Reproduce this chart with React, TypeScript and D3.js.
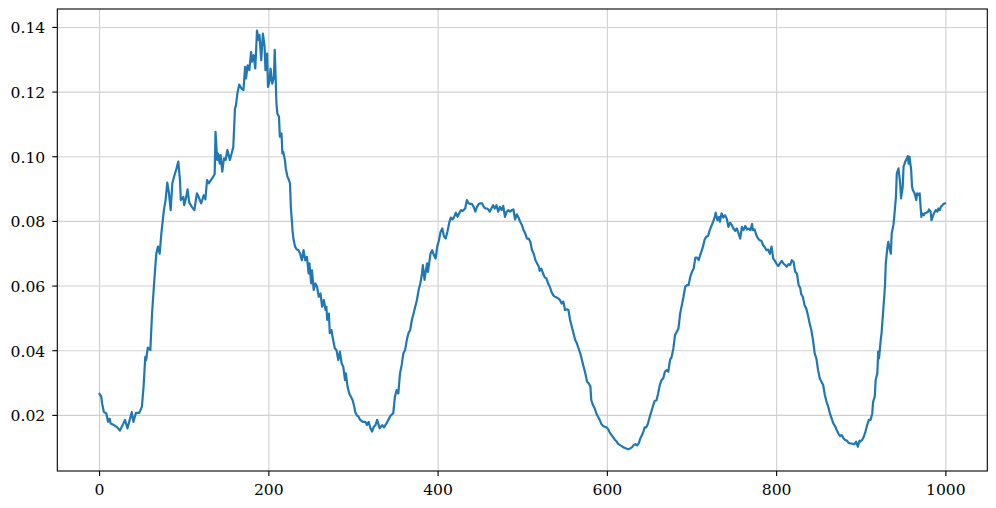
import React from "react";
import * as d3 from "d3";

const sampleX: number[] = [
  0, 2, 3, 5, 8, 10, 12, 13, 17, 21, 24, 26, 30, 33, 35, 38, 40, 43, 47, 50,
  52, 54, 55, 57, 60, 62, 65, 67, 69, 71, 73, 76, 78, 80, 82, 84, 86, 88, 91, 93,
  95, 96, 99, 100, 102, 104, 106, 109, 112, 115, 117, 120, 123, 125, 127, 129, 133, 136, 137, 139,
  140, 142, 143, 145, 147, 149, 151, 154, 156, 158, 160, 161, 163, 165, 168, 170, 172, 173, 175, 177,
  179, 180, 182, 184, 186, 188, 189, 191, 193, 195, 196, 198, 199, 201, 202, 204, 206, 207, 209, 210,
  212, 213, 215, 216, 217, 219, 220, 222, 223, 225, 226, 228, 229, 231, 233, 235, 237, 239, 241, 243,
  245, 247, 248, 250, 251, 253, 255, 257, 259, 261, 263, 265, 267, 268, 269, 271, 272, 274, 276, 278,
  280, 282, 284, 286, 288, 290, 291, 293, 295, 297, 299, 301, 302, 304, 306, 308, 311, 314, 316, 318,
  320, 322, 324, 326, 328, 331, 334, 336, 339, 342, 344, 347, 349, 351, 353, 355, 357, 359, 361, 363,
  365, 367, 369, 371, 373, 375, 377, 379, 381, 382, 384, 385, 387, 388, 390, 391, 393, 395, 397, 399,
  401, 403, 405, 407, 409, 411, 413, 415, 417, 419, 421, 423, 425, 427, 429, 432, 434, 436, 438, 440,
  442, 444, 446, 448, 450, 452, 454, 456, 458, 460, 461, 463, 465, 467, 469, 471, 473, 475, 477, 479,
  481, 483, 485, 487, 489, 491, 493, 495, 497, 499, 501, 503, 505, 507, 509, 511, 513, 515, 517, 519,
  520, 522, 524, 526, 528, 530, 532, 534, 536, 538, 540, 542, 544, 546, 548, 550, 552, 554, 556, 558,
  560, 562, 564, 566, 568, 570, 572, 574, 576, 578, 580, 581, 583, 585, 587, 589, 591, 593, 595, 597,
  599, 601, 603, 605, 607, 609, 611, 613, 615, 617, 619, 621, 623, 625, 627, 629, 631, 633, 635, 637,
  639, 641, 643, 644, 646, 648, 650, 652, 654, 656, 658, 660, 662, 664, 666, 668, 670, 672, 674, 676,
  678, 680, 682, 684, 686, 688, 690, 692, 694, 696, 698, 700, 702, 704, 706, 708, 709, 711, 713, 715,
  717, 719, 721, 723, 725, 727, 728, 730, 732, 733, 735, 737, 739, 741, 743, 745, 747, 749, 751, 753,
  755, 757, 759, 761, 763, 765, 767, 769, 771, 772, 774, 776, 778, 780, 782, 784, 786, 788, 790, 792,
  794, 796, 798, 800, 802, 804, 806, 808, 810, 812, 814, 816, 818, 820, 822, 824, 826, 828, 829, 831,
  833, 835, 837, 839, 841, 843, 845, 847, 849, 851, 853, 855, 857, 859, 861, 863, 865, 867, 869, 871,
  873, 875, 877, 879, 881, 883, 885, 887, 889, 891, 892, 894, 896, 898, 899, 901, 903, 905, 907, 909,
  911, 913, 914, 916, 917, 919, 920, 921, 923, 924, 926, 928, 929, 931, 932, 933, 935, 936, 938, 939,
  941, 942, 944, 946, 947, 949, 950, 952, 953, 955, 956, 957, 959, 960, 961, 963, 965, 966, 968, 969,
  971, 972, 974, 975, 977, 979, 980, 982, 983, 985, 986, 988, 990, 991, 993, 994, 996, 997, 999,
];

const sampleY: number[] = [
  0.0266, 0.0258, 0.0237, 0.0211, 0.0206, 0.018, 0.019, 0.0175, 0.017, 0.0163, 0.0153, 0.0163, 0.0186, 0.016, 0.018, 0.021, 0.018, 0.0208, 0.0208, 0.0227,
  0.0289, 0.0381, 0.037, 0.041, 0.0402, 0.0515, 0.0629, 0.07, 0.0722, 0.07, 0.0763, 0.0835, 0.0866, 0.092, 0.0887, 0.0835, 0.0918, 0.0938, 0.0964, 0.0985,
  0.0928, 0.0866, 0.0876, 0.085, 0.0871, 0.0899, 0.0858, 0.0845, 0.0835, 0.0887, 0.0876, 0.0856, 0.0881, 0.0868, 0.0928, 0.0918, 0.0933, 0.0946, 0.1077, 0.099,
  0.101, 0.0979, 0.1005, 0.0954, 0.0995, 0.099, 0.1021, 0.099, 0.101, 0.103, 0.115, 0.1156, 0.1198, 0.1223, 0.121, 0.1206, 0.1278, 0.1242, 0.1283, 0.1268,
  0.1324, 0.1294, 0.1314, 0.1273, 0.139, 0.1361, 0.1376, 0.1299, 0.1381, 0.134, 0.1268, 0.1319, 0.1216, 0.1237, 0.1273, 0.1226, 0.1247, 0.1331, 0.1165, 0.1134,
  0.1124, 0.1062, 0.1072, 0.101, 0.1015, 0.099, 0.0964, 0.0938, 0.0933, 0.0918, 0.0845, 0.0773, 0.0747, 0.0722, 0.0713, 0.0711, 0.07, 0.068, 0.0711, 0.068,
  0.069, 0.0639, 0.067, 0.0608, 0.0649, 0.0588, 0.0608, 0.0598, 0.0567, 0.0577, 0.0536, 0.0557, 0.0526, 0.0536, 0.0495, 0.0515, 0.0454, 0.0464, 0.0433, 0.0407,
  0.0402, 0.0371, 0.0397, 0.0361, 0.035, 0.0309, 0.033, 0.0289, 0.0268, 0.0258, 0.0247, 0.0227, 0.0211, 0.02, 0.0196, 0.0186, 0.018, 0.018, 0.017, 0.018,
  0.016, 0.015, 0.0165, 0.017, 0.0186, 0.016, 0.017, 0.0163, 0.0175, 0.019, 0.02, 0.0206, 0.0258, 0.0278, 0.0268, 0.033, 0.0356, 0.0392, 0.0402, 0.0433,
  0.0454, 0.0464, 0.0495, 0.0515, 0.0536, 0.0557, 0.0588, 0.0608, 0.0639, 0.0665, 0.0619, 0.0639, 0.067, 0.0644, 0.068, 0.07, 0.0711, 0.0696, 0.0685, 0.0722,
  0.0742, 0.0768, 0.0778, 0.0753, 0.0747, 0.0768, 0.0794, 0.0812, 0.0806, 0.0814, 0.0827, 0.0814, 0.0825, 0.0835, 0.0832, 0.084, 0.0866, 0.0856, 0.0854, 0.0854,
  0.0845, 0.083, 0.0845, 0.0854, 0.0856, 0.0856, 0.0845, 0.084, 0.084, 0.0835, 0.083, 0.084, 0.085, 0.084, 0.085, 0.083, 0.0845, 0.0835, 0.0848, 0.0814,
  0.083, 0.0835, 0.083, 0.0835, 0.0837, 0.0806, 0.0822, 0.0812, 0.0799, 0.0789, 0.0773, 0.0763, 0.0747, 0.0747, 0.0737, 0.0711, 0.07, 0.068, 0.067, 0.066,
  0.0647, 0.0654, 0.0639, 0.0627, 0.0624, 0.0608, 0.0598, 0.0582, 0.0572, 0.0567, 0.0565, 0.0562, 0.0557, 0.0546, 0.0552, 0.0526, 0.0528, 0.0526, 0.0495, 0.0474,
  0.0454, 0.0433, 0.0423, 0.0407, 0.0392, 0.0371, 0.035, 0.033, 0.0304, 0.0299, 0.0289, 0.0247, 0.0232, 0.0222, 0.0206, 0.0196, 0.0186, 0.0173, 0.0167, 0.0165,
  0.0163, 0.0157, 0.0146, 0.0139, 0.0132, 0.0124, 0.0119, 0.0111, 0.0108, 0.0105, 0.0101, 0.0099, 0.0097, 0.0095, 0.0098, 0.0101, 0.0108, 0.0111, 0.0107, 0.0113,
  0.0129, 0.0139, 0.0153, 0.0163, 0.0163, 0.0175, 0.0195, 0.0212, 0.023, 0.0245, 0.0246, 0.0268, 0.0294, 0.0309, 0.0314, 0.0335, 0.034, 0.0335, 0.0371, 0.0381,
  0.0407, 0.0449, 0.0459, 0.0469, 0.0515, 0.0541, 0.0567, 0.0598, 0.0603, 0.0603, 0.0629, 0.0644, 0.0654, 0.0688, 0.0688, 0.068, 0.069, 0.0706, 0.0722, 0.0744,
  0.0753, 0.0755, 0.0773, 0.0786, 0.0799, 0.0814, 0.0827, 0.0804, 0.0814, 0.0799, 0.0825, 0.0812, 0.0819, 0.0809, 0.0783, 0.0796, 0.0789, 0.0778, 0.0771, 0.0778,
  0.0763, 0.0747, 0.0783, 0.0773, 0.0786, 0.0775, 0.0778, 0.0773, 0.0792, 0.0773, 0.0775, 0.0758, 0.0747, 0.0742, 0.074, 0.0727, 0.072, 0.0711, 0.0713, 0.07,
  0.0722, 0.0685, 0.0678, 0.0668, 0.0662, 0.067, 0.0678, 0.067, 0.0665, 0.066, 0.0668, 0.0665, 0.068, 0.0675, 0.0644, 0.0639, 0.0603, 0.0593, 0.0575, 0.0567,
  0.0541, 0.0531, 0.051, 0.0485, 0.0464, 0.0433, 0.0392, 0.0376, 0.034, 0.0314, 0.0304, 0.0294, 0.0263, 0.0242, 0.0227, 0.0206, 0.0191, 0.0175, 0.0167, 0.0155,
  0.0144, 0.0136, 0.0139, 0.0129, 0.0124, 0.0122, 0.0115, 0.0113, 0.0113, 0.0111, 0.0111, 0.0119, 0.0103, 0.0122, 0.0119, 0.0124, 0.0134, 0.015, 0.017, 0.0186,
  0.0186, 0.0206, 0.0242, 0.0258, 0.0309, 0.033, 0.0397, 0.0376, 0.0433, 0.0454, 0.0526, 0.0598, 0.067, 0.0722, 0.0737, 0.0722, 0.07, 0.0763, 0.0789, 0.0814,
  0.0876, 0.0948, 0.0964, 0.0918, 0.0871, 0.0907, 0.0969, 0.0985, 0.099, 0.1002, 0.0979, 0.1, 0.0959, 0.0907, 0.0897, 0.0887, 0.0866, 0.0887, 0.0881, 0.0887,
  0.0814, 0.0825, 0.0819, 0.0825, 0.0827, 0.083, 0.0837, 0.083, 0.0804, 0.0819, 0.0825, 0.0835, 0.083, 0.084, 0.0835, 0.0845, 0.085, 0.0854, 0.0856,
];

const xTicks: number[] = [0, 200, 400, 600, 800, 1000];
const yTicks: number[] = [0.02, 0.04, 0.06, 0.08, 0.1, 0.12, 0.14];

const W = 996;
const H = 508;
const left = 57.3;
const right = 987.3;
const top = 9;
const bottom = 471;
const FONT = "'DejaVu Serif', serif";
const FS = 15.6;

export default function App() {
  const x = d3.scaleLinear().domain([-49.95, 1048.95]).range([left, right]);
  const y = d3.scaleLinear().domain([0.0028, 0.1457]).range([bottom, top]);
  const pts: [number, number][] = sampleX.map((v, i) => [v, sampleY[i]]);
  const line = d3
    .line<[number, number]>()
    .x((d) => x(d[0]))
    .y((d) => y(d[1]));

  return (
    <svg
      width={W}
      height={H}
      style={{ position: "absolute", left: 0, top: 0, background: "#fff" }}
    >
      <rect x={0} y={0} width={W} height={H} fill="#fff" />
      <g>
        {xTicks.map((t) => (
          <line
            key={"gx" + t}
            x1={x(t)}
            x2={x(t)}
            y1={top}
            y2={bottom}
            stroke="#d0d0d0"
            strokeWidth={1.1}
          />
        ))}
        {yTicks.map((t) => (
          <line
            key={"gy" + t}
            x1={left}
            x2={right}
            y1={y(t)}
            y2={y(t)}
            stroke="#d0d0d0"
            strokeWidth={1.1}
          />
        ))}
      </g>
      <path
        d={line(pts) || ""}
        fill="none"
        stroke="#1f77b4"
        strokeWidth={2.2}
        strokeLinejoin="round"
        strokeLinecap="square"
      />
      <rect
        x={left}
        y={top}
        width={right - left}
        height={bottom - top}
        fill="none"
        stroke="#000"
        strokeWidth={1.1}
      />
      {xTicks.map((t) => (
        <g key={"tx" + t}>
          <line x1={x(t)} x2={x(t)} y1={bottom} y2={bottom + 5} stroke="#000" strokeWidth={1.1} />
          <text
            x={x(t)}
            y={bottom + 24}
            textAnchor="middle"
            fontFamily={FONT}
            fontSize={FS}
            fill="#000"
          >
            {String(t)}
          </text>
        </g>
      ))}
      {yTicks.map((t) => (
        <g key={"ty" + t}>
          <line x1={left - 5} x2={left} y1={y(t)} y2={y(t)} stroke="#000" strokeWidth={1.1} />
          <text
            x={left - 12}
            y={y(t) + 6}
            textAnchor="end"
            fontFamily={FONT}
            fontSize={FS}
            fill="#000"
          >
            {t.toFixed(2)}
          </text>
        </g>
      ))}
    </svg>
  );
}
